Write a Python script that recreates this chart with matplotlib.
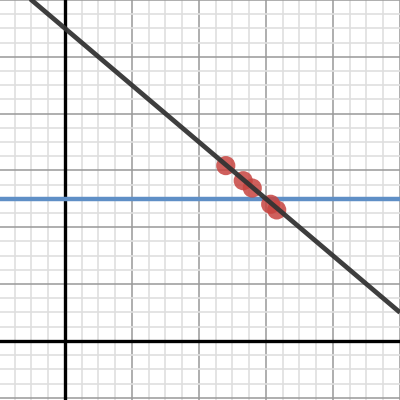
import numpy as np
import matplotlib.pyplot as plt
from matplotlib.ticker import MultipleLocator

# Data
point_x = [4.80, 5.32, 5.59, 6.14, 6.32]
point_y = [6.17, 5.64, 5.38, 4.81, 4.61]
line_intercept = 11.0
line_slope = -1.0
horizontal_y = 5.0

x_range = [-1.94, 10.0]
y_range = [-2.08, 12.0]

fig = plt.figure(figsize=(4, 4), dpi=100)
ax = fig.add_axes([0, 0, 1, 1])
ax.set_xlim(x_range)
ax.set_ylim(y_range)
ax.set_axisbelow(True)

# grid
ax.xaxis.set_major_locator(MultipleLocator(2))
ax.yaxis.set_major_locator(MultipleLocator(2))
ax.xaxis.set_minor_locator(MultipleLocator(0.5))
ax.yaxis.set_minor_locator(MultipleLocator(0.5))
ax.grid(which='minor', color='#dfdfdf', linewidth=1.2)
ax.grid(which='major', color='#999999', linewidth=1.1)
ax.tick_params(which='both', length=0, labelbottom=False, labelleft=False)
for s in ax.spines.values():
    s.set_visible(False)

# axes
ax.axhline(0, color='black', linewidth=2.4, zorder=1)
ax.axvline(0, color='black', linewidth=2.4, zorder=1)

# horizontal blue line
ax.axhline(horizontal_y, color='#5f8fc6', linewidth=3.2, zorder=2)

# red points
ax.scatter(point_x, point_y, s=190, color='#c74440', alpha=0.85,
           edgecolors='none', zorder=3)

# fitted line
xs = np.array(x_range)
ax.plot(xs, line_intercept + line_slope * xs, color='#333333',
        linewidth=3.4, alpha=0.95, zorder=4, solid_capstyle='butt')

fig.savefig('out.png', dpi=100)
